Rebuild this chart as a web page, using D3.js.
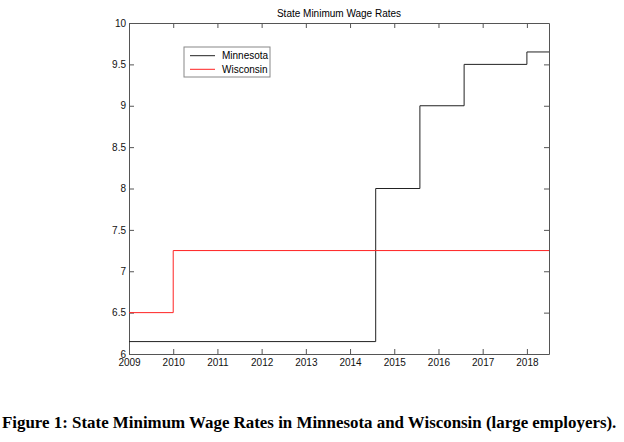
<html>
<head>
<style>
  body { margin: 0; background: #fff; }
  .axis text { font-family: "Liberation Sans", Arial, sans-serif; font-size: 10px; fill: #111; }
  .axis path, .axis line { stroke: #555; }
</style>
<script src="https://d3js.org/d3.v7.min.js" charset="utf-8"></script>
</head>
<body>
<div id="viz"></div>
<script>
  // chart data
  const mnDates = [2009, 2014.58, 2015.58, 2016.58, 2018, 2018.5];
  const mnWages = [6.15, 8, 9, 9.5, 9.65, 9.65];
  const wiDates = [2009, 2010, 2018.5];
  const wiWages = [6.5, 7.25, 7.25];
  const xTicks = [2009, 2010, 2011, 2012, 2013, 2014, 2015, 2016, 2017, 2018];
  const yTicks = [6, 6.5, 7, 7.5, 8, 8.5, 9, 9.5, 10];
  const seriesNames = ["Minnesota", "Wisconsin"];
  const seriesColors = ["#222", "#f22"];

  const width = 624, height = 442;
  const plot = { left: 129, right: 549, top: 23, bottom: 354 };

  const svg = d3.select("#viz").append("svg")
    .attr("width", width).attr("height", height);

  const x = d3.scaleLinear().domain([2009, 2018.5]).range([plot.left, plot.right]);
  const y = d3.scaleLinear().domain([6, 10]).range([plot.bottom, plot.top]);

  // axes with inward ticks, mirrored on top and right
  svg.append("g").attr("class", "axis")
    .attr("transform", `translate(0,${plot.bottom})`)
    .call(d3.axisBottom(x).tickValues(xTicks).tickFormat(d3.format("d"))
      .tickSizeInner(-5).tickSizeOuter(0).tickPadding(5));

  svg.append("g").attr("class", "axis")
    .attr("transform", `translate(${plot.left},0)`)
    .call(d3.axisLeft(y).tickValues(yTicks).tickFormat(d => d)
      .tickSizeInner(-5).tickSizeOuter(0).tickPadding(3));

  svg.append("g").attr("class", "axis")
    .attr("transform", `translate(0,${plot.top})`)
    .call(d3.axisTop(x).tickValues(xTicks).tickFormat("")
      .tickSizeInner(-5).tickSizeOuter(0));

  svg.append("g").attr("class", "axis")
    .attr("transform", `translate(${plot.right},0)`)
    .call(d3.axisRight(y).tickValues(yTicks).tickFormat("")
      .tickSizeInner(-5).tickSizeOuter(0));

  // step lines
  const line = d3.line()
    .x(d => x(d[0])).y(d => y(d[1]))
    .curve(d3.curveStepAfter);

  const series = [d3.zip(mnDates, mnWages), d3.zip(wiDates, wiWages)];
  series.forEach((s, i) => {
    svg.append("path")
      .datum(s)
      .attr("d", line)
      .attr("fill", "none")
      .attr("stroke", seriesColors[i])
      .attr("stroke-width", 1);
  });

  // title
  svg.append("text")
    .attr("x", (plot.left + plot.right) / 2).attr("y", 16.5)
    .attr("text-anchor", "middle")
    .style("font-family", "Liberation Sans, Arial, sans-serif")
    .style("font-size", "10px")
    .text("State Minimum Wage Rates");

  // legend
  const leg = svg.append("g").attr("transform", "translate(184,47)");
  leg.append("rect").attr("width", 86).attr("height", 30)
    .attr("fill", "#fff").attr("stroke", "#888");
  seriesNames.forEach((name, i) => {
    const cy = 8.7 + i * 13.6;
    leg.append("line").attr("x1", 6).attr("x2", 31)
      .attr("y1", cy).attr("y2", cy)
      .attr("stroke", seriesColors[i]).attr("stroke-width", 1);
    leg.append("text").attr("x", 38).attr("y", cy).attr("dy", "0.35em")
      .style("font-family", "Liberation Sans, Arial, sans-serif")
      .style("font-size", "10px")
      .text(name);
  });

  // figure caption
  svg.append("text")
    .attr("x", 2).attr("y", 428)
    .style("font-family", "Liberation Serif, Times New Roman, serif")
    .style("font-size", "16.9px")
    .style("font-weight", "bold")
    .text("Figure 1: State Minimum Wage Rates in Minnesota and Wisconsin (large employers).");
</script>
</body>
</html>
